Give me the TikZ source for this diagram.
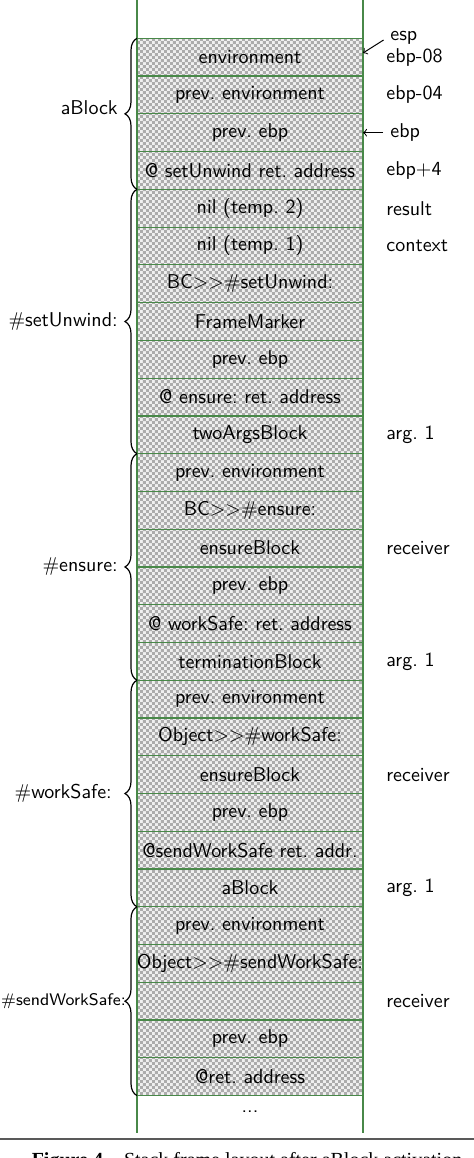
\documentclass[tikz,border=0pt]{standalone}
\usepackage{fontspec}
\newfontfamily\capserif{Liberation Serif}
\usetikzlibrary{positioning,decorations.pathreplacing,patterns}
\definecolor{stackGreen}{RGB}{72,136,72}
% fine checker fill of the stack slots
\pgfdeclarepatternformonly{stackChecker}{\pgfpointorigin}{\pgfqpoint{3.2pt}{3.2pt}}{\pgfqpoint{3.2pt}{3.2pt}}{%
  \pgfpathrectangle{\pgfpointorigin}{\pgfqpoint{1.6pt}{1.6pt}}%
  \pgfpathrectangle{\pgfqpoint{1.6pt}{1.6pt}}{\pgfqpoint{1.6pt}{1.6pt}}%
  \pgfusepath{fill}}
\begin{document}
\begin{tikzpicture}[
                x=1pt,y=1pt,
                every node/.style={font=\sffamily\frenchspacing},
                stackCell/.style={draw=stackGreen,line width=0.6pt,
                                  preaction={fill=gray!12},
                                  pattern=stackChecker,pattern color=gray!65,
                                  minimum width=113pt,minimum height=18.88pt,
                                  inner sep=0pt,outer sep=0pt},
                stackWall/.style={draw=stackGreen,line width=0.6pt},
                stackBrace/.style={draw=black,line width=0.6pt,decorate,
                                   decoration={brace,amplitude=6pt}},
                frameLabel/.style={left=6pt},
                slotLabel/.style={inner sep=1.5pt},
                pointer/.style={->,line width=0.5pt,shorten <=2pt}]
                \useasboundingbox (0,0) rectangle (237,-579);
                \clip (0,0) rectangle (237,-579);

                % Stack walls, open at both ends.
                \coordinate (wallTL) at (68.5,0);
                \coordinate (wallBL) at (68.5,-566.5);
                \coordinate (wallTR) at (181.5,0);
                \coordinate (wallBR) at (181.5,-566.5);
                \draw[stackWall] (wallTL)--(wallBL) (wallTR)--(wallBR);

                % aBlock frame.
                \node[stackCell,anchor=north] (env) at (125,-19.15) {environment};
                \node[stackCell,below=0pt of env] (prevEnvA) {prev. environment};
                \node[stackCell,below=0pt of prevEnvA] (prevEbpA) {prev. ebp};
                \node[stackCell,below=0pt of prevEbpA] (retSetUnwind) {@ setUnwind ret. address};

                % #setUnwind: frame.
                \node[stackCell,below=0pt of retSetUnwind] (nilTwo) {nil (temp. 2)};
                \node[stackCell,below=0pt of nilTwo] (nilOne) {nil (temp. 1)};
                \node[stackCell,below=0pt of nilOne] (bcSetUnwind) {BC>{}>\#setUnwind:};
                \node[stackCell,below=0pt of bcSetUnwind] (frameMarker) {FrameMarker};
                \node[stackCell,below=0pt of frameMarker] (prevEbpB) {prev. ebp};
                \node[stackCell,below=0pt of prevEbpB] (retEnsure) {@ ensure: ret. address};
                \node[stackCell,below=0pt of retEnsure] (twoArgs) {twoArgsBlock};

                % #ensure: frame.
                \node[stackCell,below=0pt of twoArgs] (prevEnvC) {prev. environment};
                \node[stackCell,below=0pt of prevEnvC] (bcEnsure) {BC>{}>\#ensure:};
                \node[stackCell,below=0pt of bcEnsure] (ensBlkC) {ensureBlock};
                \node[stackCell,below=0pt of ensBlkC] (prevEbpC) {prev. ebp};
                \node[stackCell,below=0pt of prevEbpC] (retWorkSafe) {@ workSafe: ret. address};
                \node[stackCell,below=0pt of retWorkSafe] (termBlk) {terminationBlock};

                % #workSafe: frame.
                \node[stackCell,below=0pt of termBlk] (prevEnvD) {prev. environment};
                \node[stackCell,below=0pt of prevEnvD] (objWorkSafe) {Object>{}>\#workSafe:};
                \node[stackCell,below=0pt of objWorkSafe] (ensBlkD) {ensureBlock};
                \node[stackCell,below=0pt of ensBlkD] (prevEbpD) {prev. ebp};
                \node[stackCell,below=0pt of prevEbpD] (retSendWS) {@sendWorkSafe ret. addr.};
                \node[stackCell,below=0pt of retSendWS] (aBlk) {aBlock};

                % #sendWorkSafe: frame.
                \node[stackCell,below=0pt of aBlk] (prevEnvE) {prev. environment};
                \node[stackCell,below=0pt of prevEnvE] (objSendWS) {Object>{}>\#sendWorkSafe:};
                \node[stackCell,below=0pt of objSendWS] (rcvE) {};
                \node[stackCell,below=0pt of rcvE] (prevEbpE) {prev. ebp};
                \node[stackCell,below=0pt of prevEbpE] (retAddr) {@ret. address};
                \node[below=4pt of retAddr] (more) {...};

                % Frame braces on the left.
                \draw[stackBrace] (retSetUnwind.south west) -- node[frameLabel,yshift=3pt] {aBlock} (env.north west);
                \draw[stackBrace] (twoArgs.south west) -- node[frameLabel] {\#setUnwind:} (nilTwo.north west);
                \draw[stackBrace] (termBlk.south west) -- node[frameLabel] {\#ensure:} (prevEnvC.north west);
                \draw[stackBrace] (aBlk.south west) -- node[frameLabel,left=9pt] {\#workSafe:} (prevEnvD.north west);
                \draw[stackBrace] (retAddr.south west) -- node[frameLabel,left=2pt,
                      font=\sffamily\fontsize{8.4}{10}\selectfont] {\#sendWorkSafe:} (prevEnvE.north west);

                % Slot names on the right.
                \node[slotLabel,anchor=base west] (esp) at (193.5,-20.25) {esp};
                \coordinate (espTip) at (181.5,-26.5);
                \draw[pointer] (esp.west) -- (espTip);
                \node[slotLabel,right=10pt of env] {ebp-08};
                \node[slotLabel,right=10pt of prevEnvA] {ebp-04};
                \node[slotLabel,right=12pt of prevEbpA] (ebp) {ebp};
                \draw[pointer] (ebp) -- (prevEbpA);
                \node[slotLabel,right=10pt of retSetUnwind] {ebp+4};
                \node[slotLabel,right=10pt of nilTwo] {result};
                \node[slotLabel,right=10pt of nilOne] {context};
                \node[slotLabel,right=10pt of twoArgs] {arg. 1};
                \node[slotLabel,right=10pt of ensBlkC] {receiver};
                \node[slotLabel,right=10pt of termBlk] {arg. 1};
                \node[slotLabel,right=10pt of ensBlkD] {receiver};
                \node[slotLabel,right=10pt of aBlk] {arg. 1};
                \node[slotLabel,right=10pt of rcvE] {receiver};

                % Caption rule, cut by the page edge.
                \coordinate (ruleL) at (0,-569.5);
                \coordinate (ruleR) at (237,-569.5);
                \draw[line width=0.8pt,black!65] (ruleL)--(ruleR);
                \node[font=\capserif,anchor=base,inner sep=0pt] (caption) at (123.5,-583)
                     {\textbf{Figure 4.}\hskip0.8em Stack frame layout after aBlock activation};

            \end{tikzpicture}
\end{document}
